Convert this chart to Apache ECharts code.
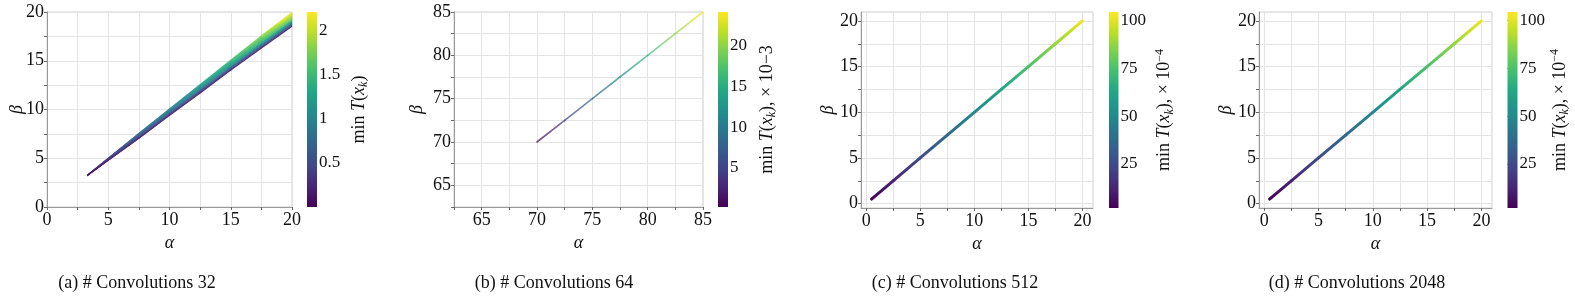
<!DOCTYPE html>
<html>
<head>
<meta charset="utf-8">
<script src="https://cdn.jsdelivr.net/npm/echarts@6/dist/echarts.min.js"></script>
<style>
	html, body { margin: 0; padding: 0; background: #fff; }
	#chart { width: 1575px; height: 305px; }
</style>
</head>
<body>
<div id="chart"></div>
<script>
// (a) 32 convolutions - the feasible region is a thin wedge
let alphaA = [3.3, 5, 7.5, 10, 12.5, 15, 17.5, 20];
let betaLowA = [3.2, 4.75, 7.0, 9.35, 11.65, 14.0, 16.25, 18.5];
let betaUpA = [3.3, 5.05, 7.6, 10.1, 12.6, 15.1, 17.6, 20];
let tLowA = [0.02, 0.02, 0.03, 0.03, 0.04, 0.04, 0.05, 0.05];
let tMidA = [0.08, 0.35, 0.55, 0.75, 0.95, 1.15, 1.4, 1.65];
let tUpA = [0.1, 0.45, 0.75, 1.0, 1.25, 1.5, 1.8, 2.2];

// (b) 64 convolutions
let alphaB = [70, 72.5, 75, 77.5, 80, 82.5, 85];
let betaB = [70, 72.5, 75, 77.5, 80, 82.5, 85];
let tB = [0.5, 4, 8, 12, 16, 20, 24];

// (c) 512 convolutions
let alphaC = [0.5, 2.5, 5, 7.5, 10, 12.5, 15, 17.5, 20];
let betaC = [0.5, 2.5, 5, 7.5, 10, 12.5, 15, 17.5, 20];
let tC = [2, 12, 25, 37, 50, 62, 75, 88, 102];

// (d) 2048 convolutions
let alphaD = [0.5, 2.5, 5, 7.5, 10, 12.5, 15, 17.5, 20];
let betaD = [0.5, 2.5, 5, 7.5, 10, 12.5, 15, 17.5, 20];
let tD = [2, 12, 25, 37, 50, 62, 75, 88, 102];

// axes
let rangeA = [0, 20];
let rangeB = [62.5, 85];
let rangeC = [-0.475, 20.975];
let labelsA = [0, 5, 10, 15, 20];
let labelsB = [65, 70, 75, 80, 85];
let gridTicksA = [0, 2.5, 5, 7.5, 10, 12.5, 15, 17.5, 20];
let gridTicksB = [62.5, 65, 67.5, 70, 72.5, 75, 77.5, 80, 82.5, 85];

// colorbars
let cbRangeA = [0, 2.21];
let cbRangeB = [0.2, 24.1];
let cbRangeC = [2, 104.4];
let cbTicksA = [0.5, 1, 1.5, 2];
let cbTicksB = [5, 10, 15, 20];
let cbTicksC = [25, 50, 75, 100];

let captions = ['(a) # Convolutions 32', '(b) # Convolutions 64', '(c) # Convolutions 512', '(d) # Convolutions 2048'];

let FONT = "'Liberation Serif', 'DejaVu Serif', serif";
let viridisStops = ['#440154', '#482475', '#414487', '#355f8d', '#2a788e', '#21918c', '#22a884', '#44bf70', '#7ad151', '#bddf26', '#fde725'];

function hexRgb(h) {
	return [parseInt(h.substr(1, 2), 16), parseInt(h.substr(3, 2), 16), parseInt(h.substr(5, 2), 16)];
}

function viridis(f) {
	f = Math.max(0, Math.min(1, f));
	let p = f * 10;
	let i = Math.min(9, Math.floor(p));
	let r = p - i;
	let c0 = hexRgb(viridisStops[i]), c1 = hexRgb(viridisStops[i + 1]);
	let c = [0, 1, 2].map(k => Math.round(c0[k] + (c1[k] - c0[k]) * r));
	return 'rgb(' + c.join(',') + ')';
}

function gradStops(t0, t1, range) {
	let stops = [];
	for (let k = 0; k <= 4; k++) {
		let t = t0 + (t1 - t0) * k / 4;
		stops.push({offset: k / 4, color: viridis((t - range[0]) / (range[1] - range[0]))});
	}
	return stops;
}

function lineRender(alphas, betas, ts, range, width, opacity) {
	return function (params, api) {
		let i = params.dataIndex;
		if (i >= alphas.length - 1) return null;
		let p0 = api.coord([alphas[i], betas[i]]);
		let p1 = api.coord([alphas[i + 1], betas[i + 1]]);
		let grad = new echarts.graphic.LinearGradient(p0[0], p0[1], p1[0], p1[1], gradStops(ts[i], ts[i + 1], range), true);
		return {
			type: 'line',
			shape: {x1: p0[0], y1: p0[1], x2: p1[0], y2: p1[1]},
			style: {stroke: grad, lineWidth: width, opacity: opacity, lineCap: 'round'}
		};
	};
}

function lerp(a, b, u) {
	return [a[0] + (b[0] - a[0]) * u, a[1] + (b[1] - a[1]) * u];
}

// value across the wedge: lower edge -> middle -> upper edge
function tAcross(i, f) {
	if (f < 0.5) return tLowA[i] + (tMidA[i] - tLowA[i]) * f * 2;
	return tMidA[i] + (tUpA[i] - tMidA[i]) * (f - 0.5) * 2;
}

function wedgeRender(params, api) {
	let i = params.dataIndex;
	if (i >= alphaA.length - 1) return null;
	let lo0 = api.coord([alphaA[i], betaLowA[i]]);
	let lo1 = api.coord([alphaA[i + 1], betaLowA[i + 1]]);
	let up0 = api.coord([alphaA[i], betaUpA[i]]);
	let up1 = api.coord([alphaA[i + 1], betaUpA[i + 1]]);
	let children = [];
	let n = 12;
	// bands from the lower edge to the upper edge, each shaded along alpha
	for (let s = 0; s < n; s++) {
		let f0 = s / n, f1 = (s + 1) / n, fm = (s + 0.5) / n;
		let a = lerp(lo0, up0, f0), b = lerp(lo1, up1, f0);
		let c = lerp(lo1, up1, f1), d = lerp(lo0, up0, f1);
		let grad = new echarts.graphic.LinearGradient(lo0[0], lo0[1], lo1[0], lo1[1], gradStops(tAcross(i, fm), tAcross(i + 1, fm), cbRangeA), true);
		children.push({
			type: 'polygon',
			shape: {points: [a, b, c, d]},
			style: {fill: grad, stroke: grad, lineWidth: 0.4}
		});
	}
	return {type: 'group', children: children};
}

function colorbarRender(range) {
	return function (params, api) {
		let p0 = api.coord([0, range[0]]);
		let p1 = api.coord([1, range[1]]);
		let stops = [];
		for (let k = 0; k <= 10; k++) stops.push({offset: k / 10, color: viridis(k / 10)});
		return {
			type: 'rect',
			shape: {x: p0[0], y: p1[1], width: p1[0] - p0[0], height: p0[1] - p1[1]},
			style: {fill: new echarts.graphic.LinearGradient(0, 1, 0, 0, stops)}
		};
	};
}

let richName = {
	it: {fontFamily: FONT, fontStyle: 'italic', fontSize: 18, lineHeight: 22, color: '#111'},
	rm: {fontFamily: FONT, fontSize: 18, lineHeight: 22, color: '#111'},
	sub: {fontFamily: FONT, fontStyle: 'italic', fontSize: 12, lineHeight: 11, verticalAlign: 'bottom', color: '#111'},
	sup: {fontFamily: FONT, fontSize: 12, lineHeight: 11, verticalAlign: 'top', color: '#111'}
};

let grids = [
	{left: 47, top: 12, width: 245, height: 195},
	{left: 454, top: 12, width: 249, height: 195},
	{left: 861, top: 12, width: 232, height: 196},
	{left: 1259, top: 12, width: 233, height: 196},
	{left: 307, top: 12, width: 10, height: 195},
	{left: 718, top: 12, width: 10, height: 195},
	{left: 1109, top: 12, width: 9.5, height: 196},
	{left: 1507.5, top: 12, width: 10, height: 196}
];

function mainX(idx, range, labels, ticks) {
	return {
		type: 'value', gridIndex: idx, min: range[0], max: range[1],
		name: 'α', nameLocation: 'middle', nameGap: 27,
		nameTextStyle: {fontFamily: FONT, fontStyle: 'italic', fontSize: 18, color: '#111'},
		axisLine: {show: true, onZero: false, lineStyle: {color: '#999'}},
		axisTick: {show: true, customValues: ticks, length: 3, lineStyle: {color: '#666'}},
		axisLabel: {customValues: labels, fontFamily: FONT, fontSize: 18, color: '#111', margin: 4},
		splitLine: {show: true, lineStyle: {color: '#e4e4e4'}}
	};
}

function mainY(idx, range, labels, ticks, gap) {
	return {
		type: 'value', gridIndex: idx, min: range[0], max: range[1],
		name: 'β', nameLocation: 'middle', nameGap: gap, nameRotate: 90, nameMoveOverlap: false,
		nameTextStyle: {fontFamily: FONT, fontStyle: 'italic', fontSize: 18, color: '#111'},
		axisLine: {show: true, onZero: false, lineStyle: {color: '#999'}},
		axisTick: {show: true, customValues: ticks, length: 3, lineStyle: {color: '#666'}},
		axisLabel: {customValues: labels, fontFamily: FONT, fontSize: 18, color: '#111', margin: 3},
		splitLine: {show: true, lineStyle: {color: '#e4e4e4'}}
	};
}

function cbY(idx, range, ticks, name, gap) {
	return {
		type: 'value', gridIndex: idx, position: 'right', min: range[0], max: range[1],
		name: name, nameLocation: 'middle', nameGap: gap, nameRotate: 90,
		nameTextStyle: {fontFamily: FONT, fontSize: 18, color: '#111', rich: richName},
		axisLine: {show: false},
		axisTick: {show: true, customValues: ticks, length: 3, lineStyle: {color: '#444'}},
		axisLabel: {customValues: ticks, fontFamily: FONT, fontSize: 17, color: '#111', margin: 2},
		splitLine: {show: false}
	};
}

let xAxes = [
	mainX(0, rangeA, labelsA, gridTicksA),
	mainX(1, rangeB, labelsB, gridTicksB),
	mainX(2, rangeC, labelsA, gridTicksA),
	mainX(3, rangeC, labelsA, gridTicksA)
];
for (let k = 4; k < 8; k++) xAxes.push({type: 'value', gridIndex: k, min: 0, max: 1, show: false});

let nameT = '{rm|min }{it|T}{rm|(}{it|x}{sub|k}{rm|)}';
let yAxes = [
	mainY(0, rangeA, labelsA, gridTicksA, 21),
	mainY(1, rangeB, labelsB, gridTicksB, 28),
	mainY(2, rangeC, labelsA, gridTicksA, 24),
	mainY(3, rangeC, labelsA, gridTicksA, 24),
	cbY(4, cbRangeA, cbTicksA, nameT, 31),
	cbY(5, cbRangeB, cbTicksB, nameT + '{rm|, × 10−3}', 28),
	cbY(6, cbRangeC, cbTicksC, nameT + '{rm|, × 10}{sup|−4}', 35),
	cbY(7, cbRangeC, cbTicksC, nameT + '{rm|, × 10}{sup|−4}', 29)
];

function pts(xs, ys, ts) {
	return xs.map((x, i) => [x, ys[i], ts[i]]);
}

let series = [
	{type: 'custom', xAxisIndex: 0, yAxisIndex: 0, renderItem: wedgeRender, data: pts(alphaA, betaUpA, tUpA), encode: {x: 0, y: 1}},
	{type: 'custom', xAxisIndex: 1, yAxisIndex: 1, renderItem: lineRender(alphaB, betaB, tB, cbRangeB, 1.6, 0.72), data: pts(alphaB, betaB, tB), encode: {x: 0, y: 1}},
	{type: 'custom', xAxisIndex: 2, yAxisIndex: 2, renderItem: lineRender(alphaC, betaC, tC, cbRangeC, 3, 1), data: pts(alphaC, betaC, tC), encode: {x: 0, y: 1}},
	{type: 'custom', xAxisIndex: 3, yAxisIndex: 3, renderItem: lineRender(alphaD, betaD, tD, cbRangeC, 3, 1), data: pts(alphaD, betaD, tD), encode: {x: 0, y: 1}},
	{type: 'custom', xAxisIndex: 4, yAxisIndex: 4, renderItem: colorbarRender(cbRangeA), data: [[0, cbRangeA[0]]], encode: {x: 0, y: 1}},
	{type: 'custom', xAxisIndex: 5, yAxisIndex: 5, renderItem: colorbarRender(cbRangeB), data: [[0, cbRangeB[0]]], encode: {x: 0, y: 1}},
	{type: 'custom', xAxisIndex: 6, yAxisIndex: 6, renderItem: colorbarRender(cbRangeC), data: [[0, cbRangeC[0]]], encode: {x: 0, y: 1}},
	{type: 'custom', xAxisIndex: 7, yAxisIndex: 7, renderItem: colorbarRender(cbRangeC), data: [[0, cbRangeC[0]]], encode: {x: 0, y: 1}}
];

for (let k = 0; k < 4; k++) {
	grids[k].show = true;
	grids[k].borderColor = '#cfcfcf';
	grids[k].borderWidth = 1;
}

let captionX = [137, 554, 955, 1357];
let graphics = captions.map((c, i) => ({
	type: 'text', x: captionX[i], y: 283,
	style: {text: c, fontFamily: FONT, fontSize: 18, fill: '#111', textAlign: 'center', textVerticalAlign: 'middle'}
}));

let chart = echarts.init(document.getElementById('chart'));
chart.setOption({
	animation: false,
	backgroundColor: '#fff',
	grid: grids,
	xAxis: xAxes,
	yAxis: yAxes,
	series: series,
	graphic: graphics
});
</script>
</body>
</html>
